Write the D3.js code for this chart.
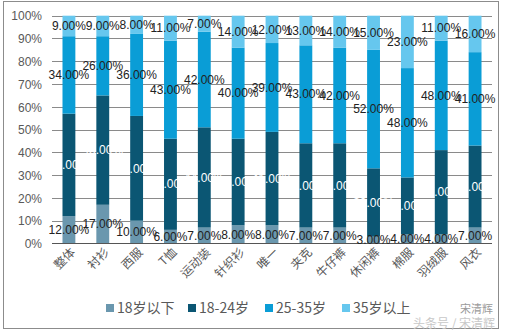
<!DOCTYPE html>
<html><head><meta charset="utf-8">
<script src="https://cdn.jsdelivr.net/npm/d3@7"></script>
<style>body{margin:0;background:#fff}svg{display:block}</style>
</head><body>
<svg id="c" width="509" height="334"></svg>
<script>
const categories = ["整体","衬衫","西服","T恤","运动装","针织衫","唯一","夹克","牛仔裤","休闲裤","棉服","羽绒服","风衣"];
const seriesNames = ["18岁以下","18-24岁","25-35岁","35岁以上"];
const under18 = [12,17,10,6,7,8,8,7,7,3,4,4,7];
const age18to24 = [45,48,46,40,44,38,41,37,37,30,25,37,36];
const age25to35 = [34,26,36,43,42,40,39,43,42,52,48,48,41];
const over35 = [9,9,8,11,7,14,12,13,14,15,23,11,16];
const yTicks = [0,10,20,30,40,50,60,70,80,90,100];
const colors = ["#6A97AE","#0B5673","#0A9DD6","#66C7EE"];
const labelColors = ["#222","#fff","#222","#222"];

const svg = d3.select("#c");
const font = "'Liberation Sans','Noto Sans CJK SC',Arial,sans-serif";
svg.append("rect").attr("x",3.5).attr("y",1.5).attr("width",495).attr("height",327)
  .attr("fill","#fff").attr("stroke","#8c8c8c");

const x = d3.scaleBand().domain(categories).range([52,492]).paddingInner(0.62).paddingOuter(0.31);
const y = d3.scaleLinear().domain([0,100]).range([243.5,15.7]);

svg.append("g").selectAll("line").data(yTicks.slice(1)).join("line")
  .attr("x1",52).attr("x2",492).attr("y1",d=>Math.round(y(d))+0.5).attr("y2",d=>Math.round(y(d))+0.5)
  .attr("stroke","#8a8a8a").attr("stroke-width",1);

const yAxis = d3.axisLeft(y).tickValues(yTicks).tickFormat(d=>d+"%").tickSize(0).tickPadding(0);
const ga = svg.append("g").attr("transform","translate(42,0)").call(yAxis);
ga.select(".domain").remove();
ga.selectAll("text").attr("font-family",font).attr("font-size",12).attr("fill","#595959").attr("dy","0.35em");

const data = [under18, age18to24, age25to35, over35];
const rows = categories.map((c,i)=>{const o={cat:c}; seriesNames.forEach((s,k)=>o[s]=data[k][i]); return o;});
const stack = d3.stack().keys(seriesNames)(rows);

const layers = svg.append("g").selectAll("g").data(stack).join("g").attr("fill",(d,i)=>colors[i]);
layers.selectAll("rect").data(d=>d).join("rect")
  .attr("x",d=>x(d.data.cat)).attr("width",x.bandwidth())
  .attr("y",d=>y(d[1])).attr("height",d=>y(d[0])-y(d[1]));

svg.append("line").attr("x1",52).attr("x2",492).attr("y1",243.5).attr("y2",243.5).attr("stroke","#555");

stack.forEach((layer,k)=>{
  svg.append("g").selectAll("text").data(layer).join("text")
    .attr("x",d=>x(d.data.cat)+x.bandwidth()/2)
    .attr("y",d=>y((d[0]+d[1])/2))
    .attr("dy","0.35em").attr("text-anchor","middle")
    .attr("font-family",font).attr("font-size",12).attr("fill",labelColors[k])
    .text(d=>(d[1]-d[0]).toFixed(2)+"%");
});

const xAxis = d3.axisBottom(x).tickSize(0).tickPadding(0);
const gx = svg.append("g").attr("transform","translate(0,250)").call(xAxis);
gx.select(".domain").remove();
gx.selectAll("text").attr("font-family","'Noto Sans CJK SC',sans-serif").attr("font-size",12).attr("fill","#595959")
  .attr("text-anchor","end").attr("dy","0.35em").attr("dx","0").attr("transform","translate(4,0) rotate(-45)").attr("y",0);

const legendX = [106,188,265,342];
const lg = svg.append("g").selectAll("g").data(seriesNames).join("g")
  .attr("transform",(d,i)=>`translate(${legendX[i]},308)`);
lg.append("rect").attr("x",0).attr("y",-4).attr("width",8).attr("height",8).attr("fill",(d,i)=>colors[i]);
lg.append("text").attr("x",11).attr("y",0).attr("dy","0.35em").attr("font-family","'Noto Sans CJK SC',sans-serif")
  .attr("font-size",14).attr("fill","#595959").text(d=>d);

svg.append("text").attr("x",460).attr("y",313).attr("font-family","'Noto Sans CJK SC',sans-serif").attr("font-size",11)
  .attr("fill","#9a9a9a").text("宋清辉");
svg.append("text").attr("x",413).attr("y",328).attr("font-family","'Noto Sans CJK SC',sans-serif").attr("font-size",12)
  .attr("fill","#c8c8c8").text("头条号 / 宋清辉");
</script>
</body></html>
